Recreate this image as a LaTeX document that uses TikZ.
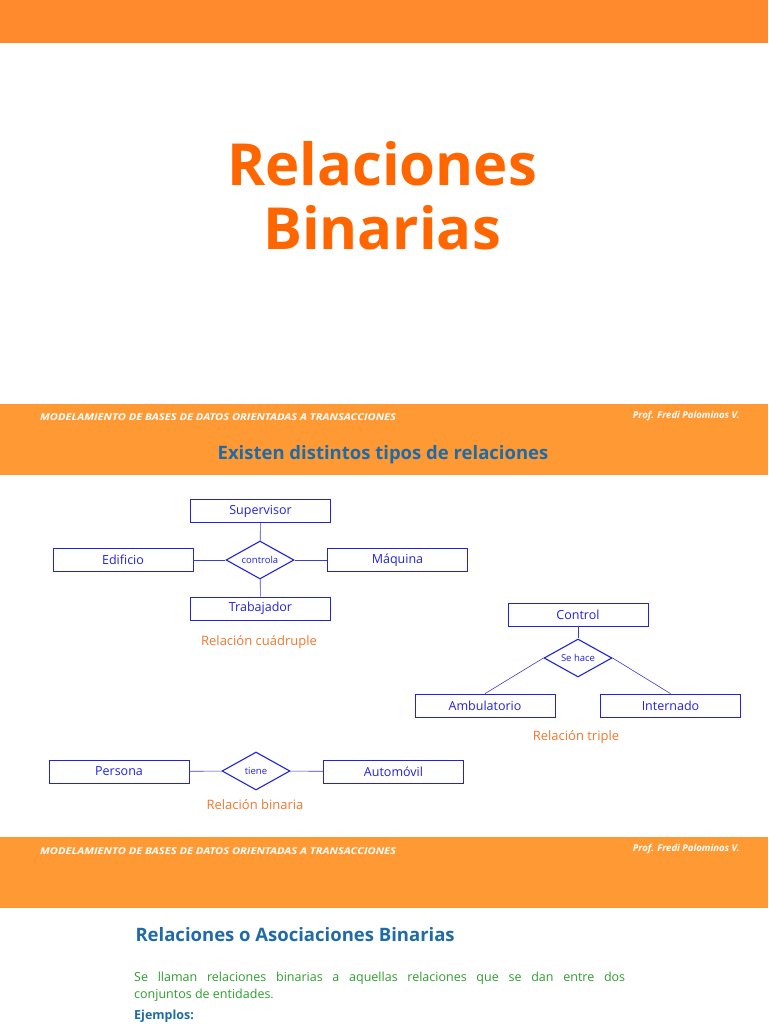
\documentclass[tikz,border=0pt]{standalone}
\usepackage{fontspec}
\setmainfont{Open Sans}
\usetikzlibrary{shapes.geometric}
\definecolor{band}{HTML}{FF9933}
\definecolor{ttl}{HTML}{FF6600}
\definecolor{hb}{HTML}{1F6BA8}
\definecolor{ent}{HTML}{2222DD}
\definecolor{lbl}{HTML}{F07830}
\definecolor{grn}{HTML}{2E9E2E}
\begin{document}
\begin{tikzpicture}[x=1pt,y=-1pt,
  ent/.style={draw=ent,line width=0.8pt,minimum width=140pt,minimum height=23pt,inner sep=0pt,font=\fontsize{12.5}{14}\selectfont,text=ent},
  rel/.style={diamond,draw=ent,line width=1.1pt,minimum width=68pt,minimum height=38pt,inner sep=0pt,aspect=1.8,font=\fontsize{9.5}{11}\selectfont,text=ent},
  lnk/.style={draw=ent!70!gray,line width=0.6pt},
  relcap/.style={text=lbl,font=\fontsize{13}{15}\selectfont},
  hdr/.style={text=white,font=\fontsize{9.5}{11}\selectfont\bfseries\itshape}]
\useasboundingbox (0,0) rectangle (768,1024);
\fill[white] (0,0) rectangle (768,1024);
\fill[band!90!red] (0,0) rectangle (768,43);
\node[text=ttl,font=\fontsize{58}{66}\selectfont\bfseries] (t1) at (382,164) {Relaciones};
\node[text=ttl,font=\fontsize{58}{66}\selectfont\bfseries] (t2) at (382,228) {Binarias};
% band 2
\fill[band] (0,404) rectangle (768,475);
\node[hdr,anchor=west,xscale=1.17] (h1) at (36,417) {MODELAMIENTO DE BASES DE DATOS ORIENTADAS A TRANSACCIONES};
\node[hdr,anchor=east] (h2) at (743,416) {Prof. Fredi Palominos V.};
\node[text=hb,font=\fontsize{18.5}{22}\selectfont\bfseries] (ex) at (383,455) {Existen distintos tipos de relaciones};
% quad
\node[ent] (sup) at (260.5,511) {Supervisor};
\node[ent] (edi) at (123,560) {Edificio};
\node[ent] (maq) at (397.5,560) {Máquina};
\node[ent] (tra) at (260.5,608.5) {Trabajador};
\node[rel] (con) at (260,560) {controla};
\draw[lnk] (sup) -- (con); \draw[lnk] (con) -- (tra);
\draw[lnk] (edi) -- (con); \draw[lnk] (con) -- (maq);
\node[relcap] (c1) at (259,642) {Relación cuádruple};
% triple
\node[ent] (ctl) at (578,614.5) {Control};
\node[rel] (seh) at (578,658) {Se hace};
\node[ent] (amb) at (485,705.5) {Ambulatorio};
\node[ent] (int) at (670.5,705.5) {Internado};
\draw[lnk] (ctl) -- (seh);
\draw[lnk] (seh.west) -- (amb.north);
\draw[lnk] (seh.east) -- (int.north);
\node[relcap] (c2) at (576,737) {Relación triple};
% binary
\node[ent] (per) at (119,771.5) {Persona};
\node[rel] (tie) at (256,771) {tiene};
\node[ent] (aut) at (393.5,771.5) {Automóvil};
\draw[lnk] (per) -- (tie); \draw[lnk] (tie) -- (aut);
\node[relcap] (c3) at (255,805) {Relación binaria};
% band 3
\fill[band] (0,837) rectangle (768,908);
\node[hdr,anchor=west,xscale=1.17] (h3) at (36,851) {MODELAMIENTO DE BASES DE DATOS ORIENTADAS A TRANSACCIONES};
\node[hdr,anchor=east] (h4) at (743,849) {Prof. Fredi Palominos V.};
\node[text=hb,font=\fontsize{18.5}{22}\selectfont\bfseries,anchor=west] (rb) at (132,935) {Relaciones o Asociaciones Binarias};
\node[text=grn,font=\fontsize{12.5}{17}\selectfont,anchor=north west,text width=491pt,align=justify,inner sep=0pt] (p) at (134,972) {Se llaman relaciones binarias a aquellas relaciones que se dan entre dos\linebreak conjuntos de entidades.};
\node[text=hb,font=\fontsize{12.5}{14}\selectfont\bfseries,anchor=west,inner sep=0pt] (ej) at (134,1016) {Ejemplos:};
\end{tikzpicture}
\end{document}
